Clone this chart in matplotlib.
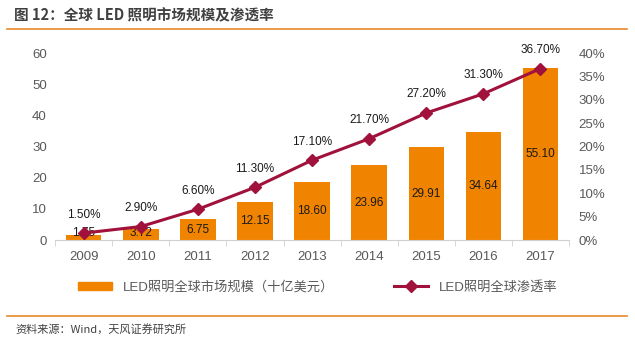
import matplotlib
matplotlib.use("Agg")
import matplotlib.pyplot as plt
import numpy as np
from matplotlib.lines import Line2D
from matplotlib.patches import Patch

plt.rcParams['font.family'] = ['Liberation Sans', 'Noto Sans CJK SC', 'DejaVu Sans']

years = ['2009', '2010', '2011', '2012', '2013', '2014', '2015', '2016', '2017']
market = [1.75, 3.72, 6.75, 12.15, 18.60, 23.96, 29.91, 34.64, 55.10]
penetration = [1.50, 2.90, 6.60, 11.30, 17.10, 21.70, 27.20, 31.30, 36.70]

bar_color = '#F08300'
line_color = '#A0123C'
tick_color = '#595959'

fig = plt.figure(figsize=(6.35, 3.43), dpi=100)
ax = fig.add_axes([0.087, 0.300, 0.809, 0.545])
ax2 = ax.twinx()

x = np.arange(len(years))
ax.bar(x, market, width=0.62, color=bar_color, zorder=2)
for xi, v in zip(x, market):
    ax.text(xi, max(v / 2, 2.4), f'{v:.2f}', ha='center', va='center',
            fontsize=8.5, color='#1a1a1a', zorder=5)

ax.set_xlim(-0.5, len(years) - 0.5)
ax.set_ylim(0, 60)
ax.set_yticks(range(0, 61, 10))
ax.set_xticks(x)
ax.set_xticklabels(years)
ax.set_xticks(np.arange(-0.5, len(years), 1), minor=True)
ax.tick_params(axis='x', which='major', length=0, labelsize=9.5, colors=tick_color, pad=8)
ax.tick_params(axis='x', which='minor', length=4, color='#d0d0d0', direction='out')
ax.tick_params(axis='y', length=0, labelsize=9.5, colors=tick_color, pad=6)
for s in ['top', 'right', 'left']:
    ax.spines[s].set_visible(False)
ax.spines['bottom'].set_color('#d0d0d0')

ax2.plot(x, penetration, color=line_color, lw=2.2, marker='D', ms=6.5, zorder=4)
for xi, v in zip(x, penetration):
    ax2.annotate(f'{v:.2f}%', (xi, v), xytext=(0, 9), textcoords='offset points',
                 ha='center', va='bottom', fontsize=8.5, color='#1a1a1a')
ax2.set_ylim(0, 40)
ax2.set_yticks(range(0, 41, 5))
ax2.set_yticklabels([f'{t}%' for t in range(0, 41, 5)])
ax2.tick_params(axis='y', length=0, labelsize=9.5, colors=tick_color, pad=7)
for s in ['top', 'right', 'left', 'bottom']:
    ax2.spines[s].set_visible(False)

handles = [Patch(color=bar_color),
           Line2D([0], [0], color=line_color, lw=2.2, marker='D', ms=6)]
labels = ['LED照明全球市场规模（十亿美元）', 'LED照明全球渗透率']
fig.legend(handles, labels, loc='center', bbox_to_anchor=(0.5, 0.163), ncol=2,
           frameon=False, fontsize=9.5, handlelength=2.6, handleheight=0.5,
           columnspacing=4.5, labelcolor=tick_color)

fig.text(0.022, 0.955, '图 12：全球 LED 照明市场规模及渗透率', fontsize=10.5,
         fontweight='bold', color='#404040', va='center',
         family=['Noto Sans CJK SC', 'DejaVu Sans'])
fig.add_artist(Line2D([0.011, 0.988], [0.916, 0.916], color='#E8892B', lw=1.2))
fig.add_artist(Line2D([0.011, 0.988], [0.079, 0.079], color='#E8892B', lw=1.2))
fig.text(0.024, 0.040, '资料来源：Wind，天风证券研究所', fontsize=8,
         color='#404040', va='center',
         family=['Noto Sans CJK SC', 'DejaVu Sans'])

fig.savefig('out.png', dpi=100)
